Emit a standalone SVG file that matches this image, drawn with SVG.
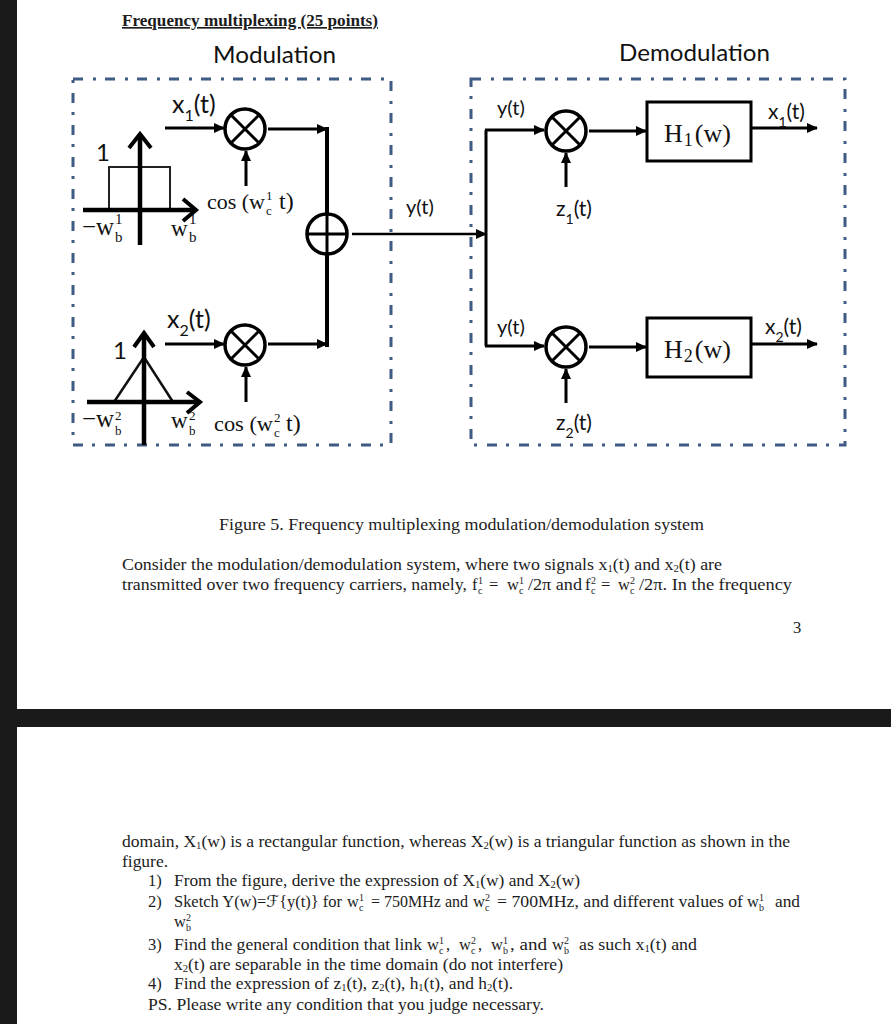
<svg xmlns="http://www.w3.org/2000/svg" width="891" height="1024" viewBox="0 0 891 1024">
<style>
.b{font-family:"Liberation Serif",serif;font-size:16.5px;fill:#1c1c1c}
.bs{font-family:"Liberation Serif",serif;font-size:10px;fill:#1c1c1c}
.l{font-family:Lato,"Open Sans",sans-serif;fill:#111}
.m{font-family:"Liberation Serif",serif;fill:#111}
.box{fill:none;stroke:#3f5a85;stroke-width:3;stroke-dasharray:10 10 3 9}
.w{fill:none;stroke:#000;stroke-linecap:butt}
.c{fill:#fff;stroke:#000;stroke-width:3.5}
.x{stroke:#000;stroke-width:3}
.chev{fill:none;stroke:#000;stroke-width:4}
</style>
<defs>
<marker id="a" markerUnits="userSpaceOnUse" markerWidth="12" markerHeight="10" refX="10" refY="5" orient="auto"><path d="M0 0L11 5L0 10Z" fill="#000"/></marker>
<g id="mul"><circle class="c" r="20"/><path class="x" d="M-14 -14L14 14M-14 14L14 -14"/></g>
</defs>
<rect width="891" height="1024" fill="#fff"/>
<rect id="bar-left" x="0" y="0" width="17" height="1024" fill="#1a1a1a"/>
<rect id="bar-mid" x="0" y="709" width="891" height="18" fill="#1a1a1a"/>

<text class="b" x="122" y="26" font-weight="bold" text-decoration="underline" textLength="256" lengthAdjust="spacingAndGlyphs">Frequency multiplexing (25 points)</text>
<text class="l" x="213" y="63" font-size="24" textLength="123" lengthAdjust="spacingAndGlyphs">Modulation</text>
<text class="l" x="619" y="61" font-size="24" textLength="151" lengthAdjust="spacingAndGlyphs">Demodulation</text>

<g id="frames">
<rect class="box" x="73" y="79" width="318" height="366"/>
<rect class="box" x="471" y="79" width="374" height="366"/>
</g>

<g id="connectors" class="w">
<path stroke-width="3" marker-end="url(#a)" d="M165 128H224"/>
<path stroke-width="3" marker-end="url(#a)" d="M268 129H327"/>
<path stroke-width="3" marker-end="url(#a)" d="M246 186V151"/>
<path stroke-width="3" marker-end="url(#a)" d="M165 344H224"/>
<path stroke-width="3" marker-end="url(#a)" d="M268 344H327"/>
<path stroke-width="3" marker-end="url(#a)" d="M246 402V367"/>
<path stroke-width="4" d="M327 127V347"/>
<path stroke-width="2.5" marker-end="url(#a)" d="M352 234H486"/>
<path stroke-width="3" d="M486 346V130"/>
<path stroke-width="3" marker-end="url(#a)" d="M485 130H544"/>
<path stroke-width="3" marker-end="url(#a)" d="M485 346H544"/>
<path stroke-width="3" marker-end="url(#a)" d="M589 131H646"/>
<path stroke-width="3" marker-end="url(#a)" d="M589 347H646"/>
<path stroke-width="3" marker-end="url(#a)" d="M566 187V153"/>
<path stroke-width="3" marker-end="url(#a)" d="M566 403V369"/>
<path stroke-width="3" marker-end="url(#a)" d="M751 128H817"/>
<path stroke-width="3" marker-end="url(#a)" d="M751 344H817"/>
</g>

<g id="mult-1"><use href="#mul" x="245" y="129"/></g>
<g id="mult-2"><use href="#mul" x="245" y="345"/></g>
<g id="mult-3"><use href="#mul" x="566" y="131"/></g>
<g id="mult-4"><use href="#mul" x="566" y="347"/></g>
<g id="summer"><circle class="c" cx="327" cy="234" r="20"/><path class="x" d="M307 234H347M327 214V254"/></g>

<g id="filter-1"><rect x="647" y="102" width="104" height="59" fill="#fff" stroke="#000" stroke-width="3"/>
<text class="m" x="664" y="142" font-size="26">H<tspan font-size="18" dx="1" dy="4">1</tspan><tspan dx="2" dy="-4">(w)</tspan></text></g>
<g id="filter-2"><rect x="647" y="318" width="104" height="59" fill="#fff" stroke="#000" stroke-width="3"/>
<text class="m" x="664" y="358" font-size="26">H<tspan font-size="18" dx="1" dy="4">2</tspan><tspan dx="2" dy="-4">(w)</tspan></text></g>

<g id="spectrum-1">
<rect x="109" y="167" width="61" height="43" fill="none" stroke="#222" stroke-width="2"/>
<path class="w" stroke-width="4.5" d="M83 210H195M140 245V134"/>
<path class="chev" stroke-width="4.5" d="M129 148L140 134L151 148M183 199L196 210L183 221"/>
<text class="l" x="96" y="161" font-size="24">1</text>
<text class="m" x="82" y="235" font-size="25">−w</text><text class="m" x="115" y="224" font-size="15">1</text><text class="m" x="115" y="242" font-size="15">b</text>
<text class="m" x="171" y="236" font-size="23">w</text><text class="m" x="189" y="224" font-size="15">1</text><text class="m" x="189" y="242" font-size="15">b</text>
</g>
<g id="spectrum-2">
<path fill="none" stroke="#111" stroke-width="2.5" d="M114 402L144 357L173 402"/>
<path class="w" stroke-width="4.5" d="M87 402H199M144 445V334"/>
<path class="chev" stroke-width="4.5" d="M134 347L144 333L154 347M187 392L200 402L187 413"/>
<text class="l" x="113" y="359" font-size="24">1</text>
<text class="m" x="82" y="427" font-size="25">−w</text><text class="m" x="115" y="420" font-size="13">2</text><text class="m" x="115" y="435" font-size="13">b</text>
<text class="m" x="171" y="428" font-size="23">w</text><text class="m" x="189" y="420" font-size="13">2</text><text class="m" x="189" y="435" font-size="13">b</text>
</g>

<g id="labels">
<text class="l" x="172" y="113" font-size="25">x<tspan font-size="16" dy="8">1</tspan><tspan dy="-8">(t)</tspan></text>
<text class="l" x="167" y="328" font-size="25">x<tspan font-size="16" dy="8">2</tspan><tspan dy="-8">(t)</tspan></text>
<text class="m" x="207" y="209" font-size="22" textLength="58" lengthAdjust="spacingAndGlyphs">cos (w</text><text class="m" x="266" y="200" font-size="13">1</text><text class="m" x="266" y="215" font-size="13">c</text><text class="m" x="279" y="209" font-size="24">t)</text>
<text class="m" x="214" y="431" font-size="22" textLength="59" lengthAdjust="spacingAndGlyphs">cos (w</text><text class="m" x="274" y="422" font-size="13">2</text><text class="m" x="274" y="437" font-size="13">c</text><text class="m" x="286" y="431" font-size="24">t)</text>
<text class="l" x="406" y="214" font-size="20">y(t)</text>
<text class="l" x="497" y="115" font-size="20">y(t)</text>
<text class="l" x="497" y="334" font-size="20">y(t)</text>
<text class="l" x="556" y="216" font-size="21">z<tspan font-size="14" dy="8">1</tspan><tspan dy="-8">(t)</tspan></text>
<text class="l" x="556" y="430" font-size="21">z<tspan font-size="14" dy="8">2</tspan><tspan dy="-8">(t)</tspan></text>
<text class="l" x="768" y="119" font-size="21">x<tspan font-size="14" dy="8">1</tspan><tspan dy="-8">(t)</tspan></text>
<text class="l" x="765" y="334" font-size="21">x<tspan font-size="14" dy="8">2</tspan><tspan dy="-8">(t)</tspan></text>
</g>

<g id="text-top">
<text class="b" x="219" y="530" textLength="485" lengthAdjust="spacingAndGlyphs">Figure 5. Frequency multiplexing modulation/demodulation system</text>
<text class="b" x="122" y="570" textLength="600" lengthAdjust="spacingAndGlyphs">Consider the modulation/demodulation system, where two signals x<tspan font-size="10" dy="2">1</tspan><tspan dy="-2">(t) and x</tspan><tspan font-size="10" dy="2">2</tspan><tspan dy="-2">(t) are</tspan></text>
<text class="b" x="122" y="590" textLength="345" lengthAdjust="spacingAndGlyphs">transmitted over two frequency carriers, namely,</text>
<text class="b" x="472" y="590">f</text><text class="bs" x="478" y="584">1</text><text class="bs" x="478" y="594">c</text>
<text class="b" x="489" y="590">=</text><text class="b" x="507" y="590">w</text><text class="bs" x="519" y="584">1</text><text class="bs" x="519" y="594">c</text>
<text class="b" x="528" y="590" textLength="54" lengthAdjust="spacingAndGlyphs">/2π and</text>
<text class="b" x="585" y="590">f</text><text class="bs" x="591" y="584">2</text><text class="bs" x="591" y="594">c</text>
<text class="b" x="601" y="590">=</text><text class="b" x="618" y="590">w</text><text class="bs" x="630" y="584">2</text><text class="bs" x="630" y="594">c</text>
<text class="b" x="639" y="590" textLength="153" lengthAdjust="spacingAndGlyphs">/2π. In the frequency</text>
<text class="b" x="793" y="633">3</text>
</g>

<g id="text-bottom">
<text class="b" x="122" y="847" textLength="668" lengthAdjust="spacingAndGlyphs">domain, X<tspan font-size="10" dy="2">1</tspan><tspan dy="-2">(w) is a rectangular function, whereas X</tspan><tspan font-size="10" dy="2">2</tspan><tspan dy="-2">(w) is a triangular function as shown in the</tspan></text>
<text class="b" x="122" y="867" textLength="46" lengthAdjust="spacingAndGlyphs">figure.</text>
<text class="b" x="148" y="886">1)</text>
<text class="b" x="174" y="886" textLength="406" lengthAdjust="spacingAndGlyphs">From the figure, derive the expression of X<tspan font-size="10" dy="2">1</tspan><tspan dy="-2">(w) and X</tspan><tspan font-size="10" dy="2">2</tspan><tspan dy="-2">(w)</tspan></text>
<text class="b" x="148" y="907">2)</text>
<text class="b" x="174" y="907" textLength="168" lengthAdjust="spacingAndGlyphs">Sketch Y(w)=<tspan font-family="DejaVu Sans,sans-serif">ℱ</tspan>{y(t)} for</text>
<text class="b" x="347" y="907">w</text><text class="bs" x="359" y="901">1</text><text class="bs" x="359" y="911">c</text>
<text class="b" x="371" y="907" textLength="97" lengthAdjust="spacingAndGlyphs">= 750MHz and</text>
<text class="b" x="473" y="907">w</text><text class="bs" x="485" y="901">2</text><text class="bs" x="485" y="911">c</text>
<text class="b" x="497" y="907" textLength="246" lengthAdjust="spacingAndGlyphs">= 700MHz, and different values of</text>
<text class="b" x="747" y="907">w</text><text class="bs" x="759" y="901">1</text><text class="bs" x="759" y="911">b</text>
<text class="b" x="775" y="907" textLength="25" lengthAdjust="spacingAndGlyphs">and</text>
<text class="b" x="174" y="927">w</text><text class="bs" x="186" y="921">2</text><text class="bs" x="186" y="931">b</text>
<text class="b" x="148" y="950">3)</text>
<text class="b" x="174" y="950" textLength="248" lengthAdjust="spacingAndGlyphs">Find the general condition that link</text>
<text class="b" x="427" y="950">w</text><text class="bs" x="439" y="944">1</text><text class="bs" x="439" y="954">c</text><text class="b" x="446" y="950">,</text>
<text class="b" x="459" y="950">w</text><text class="bs" x="471" y="944">2</text><text class="bs" x="471" y="954">c</text><text class="b" x="478" y="950">,</text>
<text class="b" x="491" y="950">w</text><text class="bs" x="503" y="944">1</text><text class="bs" x="503" y="954">b</text>
<text class="b" x="510" y="950" textLength="37" lengthAdjust="spacingAndGlyphs">, and</text>
<text class="b" x="552" y="950">w</text><text class="bs" x="564" y="944">2</text><text class="bs" x="564" y="954">b</text>
<text class="b" x="579" y="950" textLength="118" lengthAdjust="spacingAndGlyphs">as such x<tspan font-size="10" dy="2">1</tspan><tspan dy="-2">(t) and</tspan></text>
<text class="b" x="174" y="970" textLength="389" lengthAdjust="spacingAndGlyphs">x<tspan font-size="10" dy="2">2</tspan><tspan dy="-2">(t) are separable in the time domain (do not interfere)</tspan></text>
<text class="b" x="148" y="989">4)</text>
<text class="b" x="174" y="989" textLength="339" lengthAdjust="spacingAndGlyphs">Find the expression of z<tspan font-size="10" dy="2">1</tspan><tspan dy="-2">(t), z</tspan><tspan font-size="10" dy="2">2</tspan><tspan dy="-2">(t), h</tspan><tspan font-size="10" dy="2">1</tspan><tspan dy="-2">(t), and h</tspan><tspan font-size="10" dy="2">2</tspan><tspan dy="-2">(t).</tspan></text>
<text class="b" x="148" y="1010" textLength="396" lengthAdjust="spacingAndGlyphs">PS. Please write any condition that you judge necessary.</text>
</g>
</svg>
